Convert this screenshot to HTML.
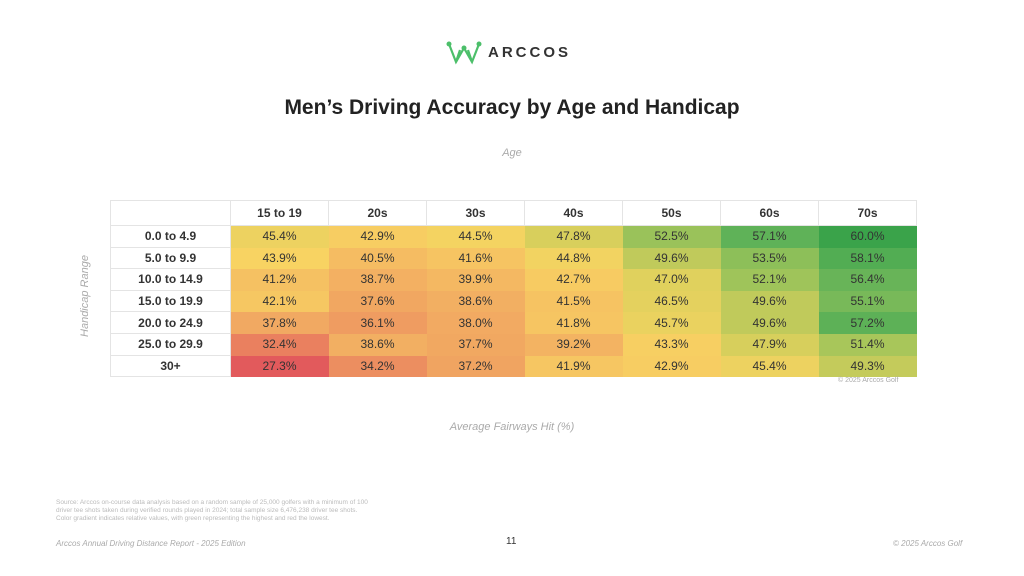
<!DOCTYPE html>
<html><head><meta charset="utf-8"><style>
body{margin:0;width:1024px;height:576px;background:#fff;font-family:"Liberation Sans",sans-serif;position:relative;overflow:hidden}
.abs{position:absolute}
table{position:absolute;left:110px;top:200px;border-collapse:collapse;font-size:12px;color:#333}
td{height:21.6px;padding:0;text-align:center;border:1px solid #e4e4e4;box-sizing:border-box}
td.h{font-weight:bold;background:#fff;height:25px}
td.r{font-weight:bold;width:120px}
td.c{width:98px}
</style></head><body>
<svg class="abs" style="left:446px;top:40px" width="36" height="26" viewBox="0 0 36 26">
<g fill="none" stroke="#4cbf6a" stroke-width="2.2"><path d="M3 4 L10 22 L18 8 L26 22 L33 4"/><path d="M10 22 L14 10 M26 22 L22 10"/></g>
<g fill="#4cbf6a"><circle cx="3" cy="4" r="2.5"/><circle cx="33" cy="4" r="2.5"/><circle cx="18" cy="8" r="2.5"/></g></svg>
<div class="abs" style="left:488px;top:44px;font-size:15px;letter-spacing:3px;color:#333;font-weight:bold">ARCCOS</div>
<div class="abs" style="left:0;width:1024px;top:96px;text-align:center;font-size:21px;font-weight:bold;color:#222">Men’s Driving Accuracy by Age and Handicap</div>
<div class="abs" style="left:0;width:1024px;top:147px;text-align:center;font-size:11px;font-style:italic;color:#aaa">Age</div>
<div class="abs" style="left:40px;top:290px;font-size:11px;font-style:italic;color:#aaa;transform:rotate(-90deg);width:90px;text-align:center">Handicap Range</div>
<table id="t"></table>
<div class="abs" style="left:838px;top:377px;font-size:7px;color:#aaa">© 2025 Arccos Golf</div>
<div class="abs" style="left:0;width:1024px;top:421px;text-align:center;font-size:11px;font-style:italic;color:#aaa">Average Fairways Hit (%)</div>
<div class="abs" style="left:56px;top:499px;font-size:6.5px;color:#bbb;line-height:8px">Source: Arccos on-course data analysis based on a random sample of 25,000 golfers with a minimum of 100<br>driver tee shots taken during verified rounds played in 2024; total sample size 6,476,238 driver tee shots.<br>Color gradient indicates relative values, with green representing the highest and red the lowest.</div>
<div class="abs" style="left:56px;top:539px;font-size:8px;font-style:italic;color:#aaa">Arccos Annual Driving Distance Report - 2025 Edition</div>
<div class="abs" style="left:506px;top:536px;font-size:10px;color:#333">11</div>
<div class="abs" style="left:893px;top:539px;font-size:8px;font-style:italic;color:#aaa">© 2025 Arccos Golf</div>
<script>
var cols=["15 to 19","20s","30s","40s","50s","60s","70s"];
var rows=[["0.0 to 4.9",45.4,42.9,44.5,47.8,52.5,57.1,60.0],["5.0 to 9.9",43.9,40.5,41.6,44.8,49.6,53.5,58.1],["10.0 to 14.9",41.2,38.7,39.9,42.7,47.0,52.1,56.4],["15.0 to 19.9",42.1,37.6,38.6,41.5,46.5,49.6,55.1],["20.0 to 24.9",37.8,36.1,38.0,41.8,45.7,49.6,57.2],["25.0 to 29.9",32.4,38.6,37.7,39.2,43.3,47.9,51.4],["30+",27.3,34.2,37.2,41.9,42.9,45.4,49.3]];
var stops=[[27,[226,88,92]],[34,[236,140,96]],[39,[243,178,98]],[44,[248,212,98]],[47.5,[220,208,92]],[52,[160,196,90]],[57,[96,178,88]],[60,[58,163,74]]];
function col(v){for(var i=0;i<stops.length-1;i++){var a=stops[i],b=stops[i+1];if(v<=b[0]){var t=Math.max(0,(v-a[0])/(b[0]-a[0]));return "rgb("+a[1].map(function(x,k){return Math.round(x+(b[1][k]-x)*t)}).join(",")+")";}}return "rgb(58,163,74)";}
var h='<tr><td class="h r"></td>'+cols.map(function(c){return '<td class="h c">'+c+'</td>'}).join('')+'</tr>';
rows.forEach(function(r){h+='<tr><td class="r">'+r[0]+'</td>';for(var i=1;i<8;i++)h+='<td class="c" style="background:'+col(r[i])+';border-color:'+col(r[i])+'">'+r[i].toFixed(1)+'%</td>';h+='</tr>';});
document.getElementById('t').innerHTML=h;
</script>
</body></html>
